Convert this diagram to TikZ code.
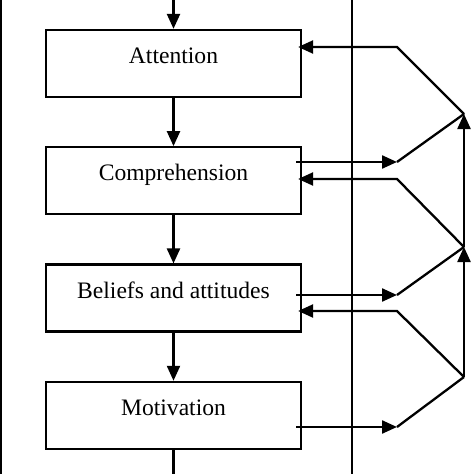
\documentclass[tikz,border=0pt]{standalone}
\usepackage{fontspec}
\setmainfont{Liberation Serif}
\usetikzlibrary{arrows.meta,positioning}

\begin{document}
\begin{tikzpicture}[x=1pt,y=-1pt,line width=2.3pt,line join=miter,
>={Triangle[length=15pt,width=13pt]},
stage/.style = {rectangle,draw,minimum width=255pt,minimum height=67pt,
text height=12pt,text depth=12pt,font=\fontsize{23.6}{28}\selectfont}]
\useasboundingbox (0,0) rectangle (474,474);
\node[stage] at (173.5,63.5) (att) {Attention};
\node[stage] [below=48pt of att] (comp) {Comprehension};
\node[stage] [below=48pt of comp] (bel) {Beliefs and attitudes};
\node[stage] [below=48pt of bel] (mot) {Motivation};

\coordinate (top) at (173.5,0);
\coordinate (bot) at (173.5,474);
\coordinate (a1) at (397,47);
\coordinate (c1) at (397,162);
\coordinate (c2) at (397,179);
\coordinate (b1) at (397,295);
\coordinate (b2) at (397,311);
\coordinate (m1) at (397,427);
\coordinate (p1) at (464,114);
\coordinate (p2) at (464,247);
\coordinate (p3) at (464,377);

% frame lines
\draw (1,0) -- (1,474);
\draw (352,0) -- (352,474);

% main chain
\draw[->] (top) -- (att);
\draw[->] (att) -- (comp);
\draw[->] (comp) -- (bel);
\draw[->] (bel) -- (mot);
\draw (mot) -- (bot);

% feedback loops
\draw[->,shorten >=-4pt] (p1) -- (a1) -- (att.east |- a1);
\draw[->,shorten <=-6pt] (comp.east |- c1) -- (c1);
\draw (c1) -- (p1);
\draw[->,shorten >=-4pt] (p2) -- (c2) -- (comp.east |- c2);
\draw[->,shorten <=-6pt] (bel.east |- b1) -- (b1);
\draw (b1) -- (p2);
\draw[->,shorten >=-4pt] (p3) -- (b2) -- (bel.east |- b2);
\draw[->,shorten <=-6pt] (mot.east |- m1) -- (m1);
\draw (m1) -- (p3);
\draw[->] (p3) -- (p2);
\draw[->] (p2) -- (p1);
\end{tikzpicture}
\end{document}
